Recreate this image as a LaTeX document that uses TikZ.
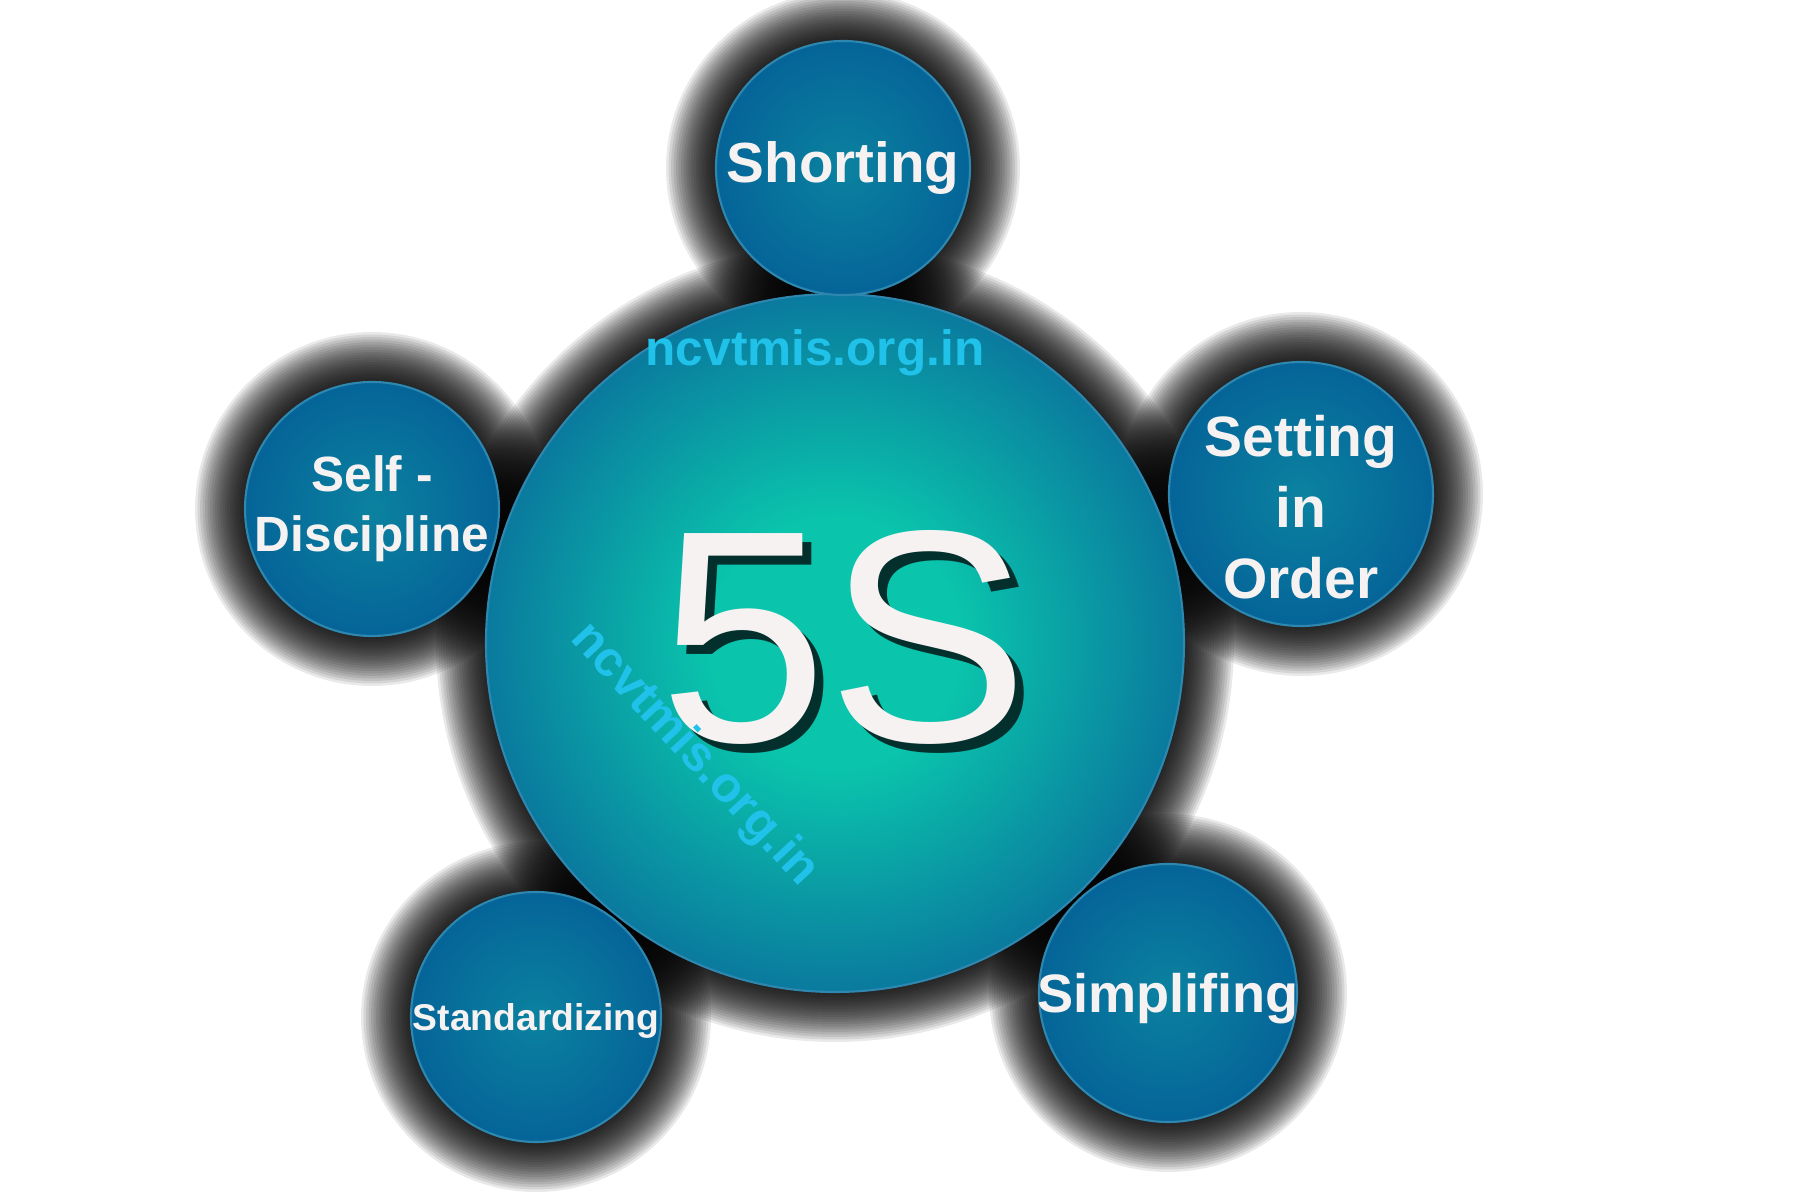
\documentclass[tikz,border=0pt]{standalone}
\usepackage{fontspec}
\setmainfont{Liberation Sans}
\usepackage{tikz}
\usetikzlibrary{positioning, backgrounds}
\definecolor{coremid}{RGB}{10, 196, 172}
\definecolor{coreedge}{RGB}{10, 122, 158}
\definecolor{dotmid}{RGB}{11, 130, 160}
\definecolor{dotedge}{RGB}{5, 100, 152}
\definecolor{rimblue}{RGB}{45, 135, 175}
\definecolor{markblue}{RGB}{32, 194, 234}
\definecolor{chalk}{RGB}{246, 242, 242}
\definecolor{fiveshade}{RGB}{3, 48, 44}
\pgfdeclareradialshading{coreshade}{\pgfpointorigin}{color(0bp)=(coremid); color(9bp)=(coremid); color(25bp)=(coreedge); color(50bp)=(coreedge)}
\pgfdeclareradialshading{dotshade}{\pgfpointorigin}{color(0bp)=(dotmid); color(25bp)=(dotedge); color(50bp)=(dotedge)}

\begin{document}
\begin{tikzpicture}[
    core/.style={circle, minimum size=6.98cm, inner sep=0pt, shading=coreshade, draw=rimblue, line width=0.6pt},
    pillar/.style={circle, minimum size=#1, inner sep=0pt, shading=dotshade, draw=rimblue, line width=0.6pt},
    tag/.style={text=chalk, align=center, inner sep=0pt},
    bigfive/.style={font=\fontsize{86}{90}\selectfont, inner sep=0pt},
    watermark/.style={text=markblue, font=\fontsize{14.1}{16}\selectfont\bfseries}
  ]
  \useasboundingbox (0,0) rectangle (18,12);

  % Centre
  \node[core] (core) at (8.35, 5.57) {};
  \node[bigfive, text=fiveshade] (fiveback) at (8.53, 5.54) {5S};
  \node[bigfive, text=chalk] (five) at (8.44, 5.63) {5S};

  % Five pillars
  \node[pillar=2.54cm] (sort) at (8.43, 10.32) {};
  \node[pillar=2.64cm] (order) at (13.01, 7.06) {};
  \node[pillar=2.58cm] (shine) at (11.68, 2.07) {};
  \node[pillar=2.50cm] (standard) at (5.36, 1.83) {};
  \node[pillar=2.54cm] (sustain) at (3.72, 6.91) {};

  % Pillar names
  \node[tag, font=\fontsize{16.1}{19}\selectfont\bfseries] (sorttext) at (sort.center) {Shorting};
  \node[tag, font=\fontsize{16.2}{20.2}\selectfont\bfseries] (ordertext) at ([yshift=-0.13cm]order.center) {Setting\\in\\Order};
  \node[tag, font=\fontsize{15.4}{18}\selectfont\bfseries] (shinetext) at ([yshift=-0.06cm]shine.center) {Simplifing};
  \node[tag, font=\fontsize{10.6}{13}\selectfont\bfseries] (standardtext) at ([yshift=-0.04cm]standard.center) {Standardizing};
  \node[tag, font=\fontsize{14.1}{17.1}\selectfont\bfseries] (sustaintext) at (sustain.center) {Self -\\Discipline};

  % Watermarks
  \node[watermark] (markflat) at (8.15, 8.47) {ncvtmis.org.in};
  \node[watermark, rotate=-47] (markslant) at (6.94, 4.45) {ncvtmis.org.in};

  % Dark glow behind every circle
  \begin{scope}[on background layer]
    \fill[white] (0,0) rectangle (18,12);
    \foreach \dot/\rad in {core/3.49, sort/1.27, order/1.32, shine/1.29, standard/1.25, sustain/1.27}
      \foreach \k in {1,...,20}
        \fill[black, opacity=0.085] (\dot.center) circle ({\rad + 0.025*\k});
  \end{scope}
\end{tikzpicture}
\end{document}
